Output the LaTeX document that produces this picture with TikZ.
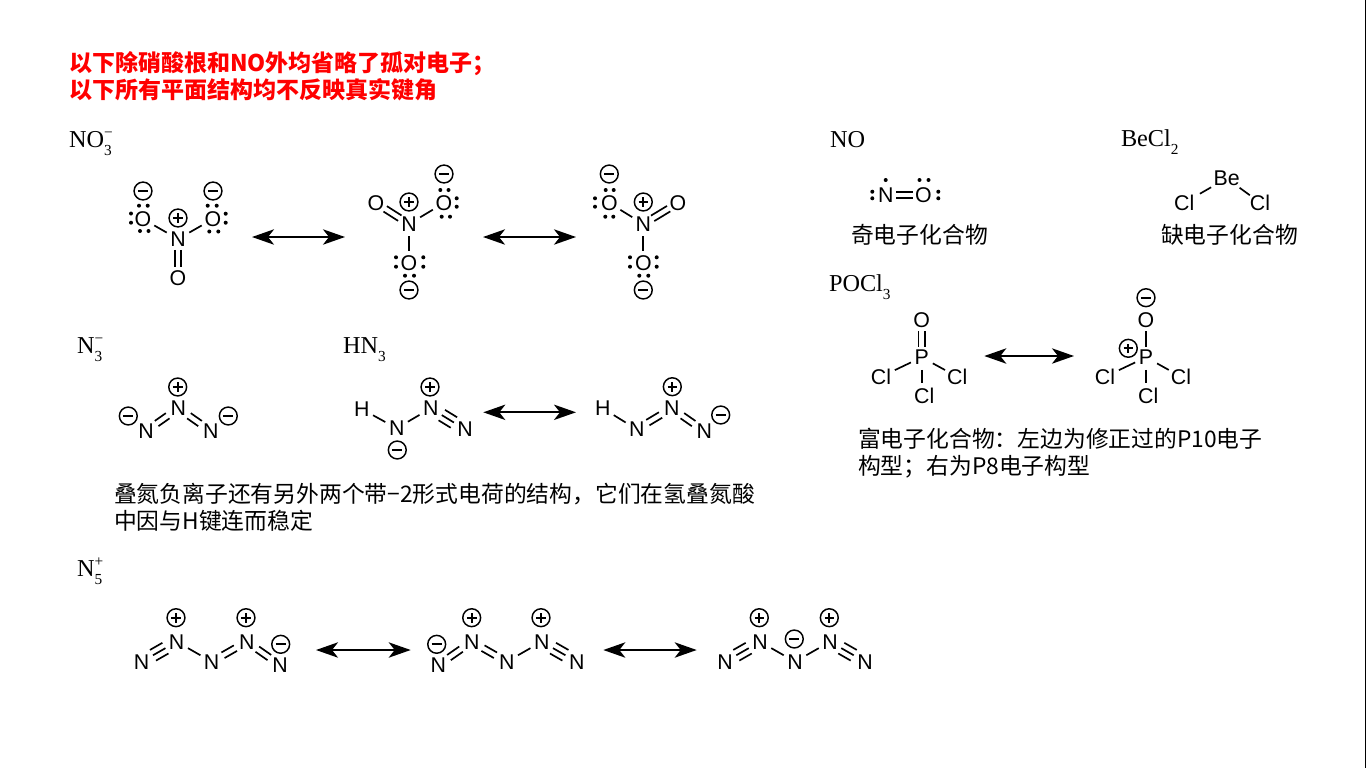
\documentclass[tikz,border=0pt]{standalone}
\usepackage{fontspec}
\setmainfont{Liberation Serif}
\newfontfamily\cjk{Noto Sans CJK SC}
\newfontfamily\lsans{Liberation Sans}
\usetikzlibrary{calc,arrows.meta}
\definecolor{titlered}{RGB}{255,0,0}
\newcommand{\fsub}[1]{\raisebox{-6pt}{\fontsize{11.5}{11.5}\selectfont #1}}
\newcommand{\fsubsup}[2]{\rlap{\raisebox{7.5pt}{\fontsize{11.5}{11.5}\selectfont #2}}\raisebox{-6pt}{\fontsize{11.5}{11.5}\selectfont #1}}
\tikzset{
  x=.75pt,y=-.75pt,
  atom/.style={font=\lsans\fontsize{16}{16}\selectfont,inner sep=0pt,outer sep=0pt,text height=11.4pt,text depth=0pt},
  chg/.style={circle,draw,line width=1.1pt,minimum size=13.4pt,inner sep=0pt,outer sep=0pt},
  plusc/.style={chg,path picture={\draw[line width=1.25pt]
     ([xshift=-3.6pt]path picture bounding box.center)--([xshift=3.6pt]path picture bounding box.center)
     ([yshift=-3.6pt]path picture bounding box.center)--([yshift=3.6pt]path picture bounding box.center);}},
  minusc/.style={chg,path picture={\draw[line width=1.5pt]
     ([xshift=-3.8pt]path picture bounding box.center)--([xshift=3.8pt]path picture bounding box.center);}},
  bond/.style={line width=1.25pt,shorten <=9.75pt,shorten >=9.75pt},
  gap/.style={shorten <=#1,shorten >=#1},
  res/.style={line width=1.5pt,{Stealth[length=16.5pt,width=11.5pt,inset=4.5pt]}-{Stealth[length=16.5pt,width=11.5pt,inset=4.5pt]}},
  lab/.style={font=\fontsize{18.2}{18.2}\selectfont,anchor=base west,inner sep=0pt,outer sep=0pt},
  body/.style={font=\cjk\fontsize{17.1}{17.1}\selectfont,anchor=base west,inner sep=0pt,outer sep=0pt},
  headline/.style={font=\cjk\bfseries\fontsize{17.25}{17.25}\selectfont,text=titlered,anchor=base west,inner sep=0pt,outer sep=0pt},
}
\newcommand{\sbd}[3][]{\draw[bond,#1] (#2.center) -- (#3.center);}
\newcommand{\dbd}[3][]{%
  \draw[bond,#1] ($(#2.center)!2.4pt!90:(#3.center)$) -- ($(#3.center)!2.4pt!-90:(#2.center)$);
  \draw[bond,#1] ($(#2.center)!2.4pt!-90:(#3.center)$) -- ($(#3.center)!2.4pt!90:(#2.center)$);}
\newcommand{\tbd}[3][]{%
  \draw[bond,#1] (#2.center) -- (#3.center);
  \draw[bond,#1] ($(#2.center)!4.6pt!90:(#3.center)$) -- ($(#3.center)!4.6pt!-90:(#2.center)$);
  \draw[bond,#1] ($(#2.center)!4.6pt!-90:(#3.center)$) -- ($(#3.center)!4.6pt!90:(#2.center)$);}
\newcommand{\lpd}[1]{\foreach \p in {#1}{\fill \p circle (1.5pt);}}
\begin{document}
\begin{tikzpicture}
\useasboundingbox (0,0) rectangle (1366,768);
\fill[white] (0,0) rectangle (1366,768);
\fill[black] (1365,0) rectangle (1366,768);

% headings
\node[headline] (h1) at (69,71.5) {以下除硝酸根和NO外均省略了孤对电子；};
\node[headline] (h2) at (69,98.5) {以下所有平面结构均不反映真实键角};

% formula labels
\node[lab] (lNO3) at (69,147) {NO\fsubsup{3}{−}};
\node[lab] (lN3) at (77,353) {N\fsubsup{3}{−}};
\node[lab] (lHN3) at (343,353) {HN\fsub{3}};
\node[lab] (lN5) at (77,576) {N\fsubsup{5}{+}};
\node[lab] (lNO) at (830,147.3) {NO};
\node[lab] (lBe) at (1121,146) {BeCl\fsub{2}};
\node[lab] (lPO) at (829,291) {POCl\fsub{3}};

% nitrate 1
\node[atom] (a1) at (178,239) {N};
\node[atom] (a1l) at (143,219) {O};
\node[atom] (a1r) at (213,219) {O};
\node[atom] (a1b) at (178,278) {O};
\node[plusc] (a1p) at (178,218) {};
\node[minusc] (a1ml) at (143,191) {};
\node[minusc] (a1mr) at (213,191) {};
\sbd{a1}{a1l} \sbd{a1}{a1r} \dbd[gap=8.2pt]{a1}{a1b}
\lpd{(139,205.7),(147.7,205.7),(140,231),(148.5,231),(131,213.5),(131,222.7),
     (207.7,205.7),(216.7,205.7),(209.3,231.5),(218.3,231.5),(225.7,213.7),(225.7,222.7)}
\coordinate (r1a) at (252,237); \coordinate (r1b) at (345,237);
\draw[res] (r1a) -- (r1b);

% nitrate 2
\node[atom] (b1) at (409,224) {N};
\node[atom] (b1l) at (376,203) {O};
\node[atom] (b1r) at (444,203) {O};
\node[atom] (b1b) at (409,263) {O};
\node[plusc] (b1p) at (409,202) {};
\node[minusc] (b1mr) at (444,174) {};
\node[minusc] (b1mb) at (409,290) {};
\dbd[gap=8.2pt]{b1}{b1l} \sbd{b1}{b1r} \sbd[gap=9pt]{b1}{b1b}
\lpd{(440.3,190),(448.5,190),(441.7,216.7),(450,216.7),(456.7,198.3),(456.7,206.7),
     (396,257.3),(396,266.7),(423.3,257.3),(423.3,266.7),(405,275.7),(414,275.7)}
\coordinate (r2a) at (483,237); \coordinate (r2b) at (576,237);
\draw[res] (r2a) -- (r2b);

% nitrate 3
\node[atom] (c1) at (643.3,224) {N};
\node[atom] (c1l) at (609.3,203) {O};
\node[atom] (c1r) at (678,203) {O};
\node[atom] (c1b) at (643.3,263) {O};
\node[plusc] (c1p) at (643.3,202) {};
\node[minusc] (c1ml) at (609.3,174) {};
\node[minusc] (c1mb) at (643.3,290) {};
\sbd{c1}{c1l} \dbd[gap=8.2pt]{c1}{c1r} \sbd[gap=9pt]{c1}{c1b}
\lpd{(605.7,190),(613.7,190),(605.3,216.7),(613.3,216.7),(595,198.3),(595,206.7),
     (630,257.3),(630,266.7),(656.7,257.3),(656.7,266.7),(639.3,275.7),(648.3,275.7)}

% azide
\node[atom] (d1) at (146,431) {N};
\node[atom] (d2) at (178.3,408.3) {N};
\node[atom] (d3) at (210.7,431) {N};
\node[plusc] (d2p) at (177.7,387) {};
\node[minusc] (d1m) at (128.3,416) {};
\node[minusc] (d3m) at (228.3,416) {};
\dbd{d1}{d2} \dbd{d2}{d3}

% HN3 left
\node[atom] (e0) at (361.7,409) {H};
\node[atom] (e1) at (396.7,428.3) {N};
\node[atom] (e2) at (430.7,408.3) {N};
\node[atom] (e3) at (465,429.3) {N};
\node[minusc] (e1m) at (397.3,450) {};
\node[plusc] (e2p) at (430,387) {};
\sbd{e0}{e1} \sbd{e1}{e2} \tbd{e2}{e3}
\coordinate (r3a) at (483.3,412.3); \coordinate (r3b) at (576,412.3);
\draw[res] (r3a) -- (r3b);

% HN3 right
\node[atom] (f0) at (602.7,408.3) {H};
\node[atom] (f1) at (636.7,429.3) {N};
\node[atom] (f2) at (671.7,408.3) {N};
\node[atom] (f3) at (704.3,431) {N};
\node[plusc] (f2p) at (672.3,386.7) {};
\node[minusc] (f3m) at (720.7,415) {};
\sbd{f0}{f1} \dbd{f1}{f2} \dbd{f2}{f3}

% N5+ 1
\node[atom] (g1) at (141.7,661.7) {N};
\node[atom] (g2) at (176.7,641.7) {N};
\node[atom] (g3) at (211.7,661.7) {N};
\node[atom] (g4) at (246.7,641.7) {N};
\node[atom] (g5) at (280,665) {N};
\node[plusc] (g2p) at (176,617.7) {};
\node[plusc] (g4p) at (246,617.7) {};
\node[minusc] (g5m) at (280.7,644.3) {};
\tbd{g1}{g2} \sbd{g2}{g3} \dbd{g3}{g4} \dbd{g4}{g5}
\coordinate (r4a) at (316,650); \coordinate (r4b) at (410.7,650);
\draw[res] (r4a) -- (r4b);

% N5+ 2
\node[atom] (i1) at (438.3,665) {N};
\node[atom] (i2) at (471.7,641.7) {N};
\node[atom] (i3) at (506.7,661.7) {N};
\node[atom] (i4) at (541.7,641.7) {N};
\node[atom] (i5) at (576.7,661.7) {N};
\node[minusc] (i1m) at (436.7,644.3) {};
\node[plusc] (i2p) at (471.7,617.7) {};
\node[plusc] (i4p) at (541,617.7) {};
\dbd{i1}{i2} \dbd{i2}{i3} \sbd{i3}{i4} \tbd{i4}{i5}
\coordinate (r5a) at (603.3,650); \coordinate (r5b) at (696.7,650);
\draw[res] (r5a) -- (r5b);

% N5+ 3
\node[atom] (j1) at (725,661.7) {N};
\node[atom] (j2) at (760,641.7) {N};
\node[atom] (j3) at (795,661.7) {N};
\node[atom] (j4) at (830,641.7) {N};
\node[atom] (j5) at (865,661.7) {N};
\node[plusc] (j2p) at (759.3,617.7) {};
\node[plusc] (j4p) at (829.3,617.7) {};
\node[minusc] (j3m) at (794.3,639) {};
\tbd{j1}{j2} \sbd{j2}{j3} \sbd{j3}{j4} \tbd{j4}{j5}

% NO
\node[atom] (k1) at (885.7,195) {N};
\node[atom] (k2) at (923.3,195) {O};
\dbd[gap=8pt]{k1}{k2}
\lpd{(872.3,191.7),(872.3,198.3),(885.7,180),(919.5,180),(928.5,180),(938.3,191.7),(938.3,198.3)}

% BeCl2
\node[atom] (m1) at (1226.7,178.3) {Be};
\node[atom] (m2) at (1184.3,202.7) {Cl};
\node[atom] (m3) at (1260,202.7) {Cl};
\sbd[gap=13.5pt]{m1}{m2} \sbd[shorten <=12pt,shorten >=9.5pt]{m1}{m3}

% POCl3 1
\node[atom] (n1) at (921.7,357.3) {P};
\node[atom] (n2) at (921.7,320) {O};
\node[atom] (n3) at (881,376.7) {Cl};
\node[atom] (n4) at (957.3,376.7) {Cl};
\node[atom] (n5) at (924.3,396) {Cl};
\dbd[gap=8pt]{n1}{n2}
\sbd[shorten <=9pt,shorten >=11.5pt]{n1}{n3}
\sbd[shorten <=9.5pt,shorten >=10.5pt]{n1}{n4}
\draw[bond,gap=9.5pt] (n1.center) -- (n1.center |- n5.center);
\coordinate (r6a) at (984.3,356); \coordinate (r6b) at (1074,356);
\draw[res] (r6a) -- (r6b);

% POCl3 2
\node[atom] (o1) at (1146,357.3) {P};
\node[atom] (o2) at (1146,320) {O};
\node[atom] (o3) at (1105,376.7) {Cl};
\node[atom] (o4) at (1181,376.7) {Cl};
\node[atom] (o5) at (1148.3,396) {Cl};
\node[minusc] (o2m) at (1146,297.7) {};
\node[plusc] (o1p) at (1128.3,348.3) {};
\sbd[gap=8pt]{o1}{o2}
\sbd[shorten <=9pt,shorten >=11.5pt]{o1}{o3}
\sbd[shorten <=9.5pt,shorten >=10.5pt]{o1}{o4}
\draw[bond,gap=9.5pt] (o1.center) -- (o1.center |- o5.center);

% captions
\node[body] (t1) at (851,243) {奇电子化合物};
\node[body] (t2) at (1161,243) {缺电子化合物};
\node[body] (t3) at (858,447) {富电子化合物：左边为修正过的P10电子};
\node[body] (t4) at (858,474) {构型；右为P8电子构型};
\node[body] (t5) at (114,502) {叠氮负离子还有另外两个带−2形式电荷的结构，它们在氢叠氮酸};
\node[body] (t6) at (114,529) {中因与H键连而稳定};
\end{tikzpicture}
\end{document}
